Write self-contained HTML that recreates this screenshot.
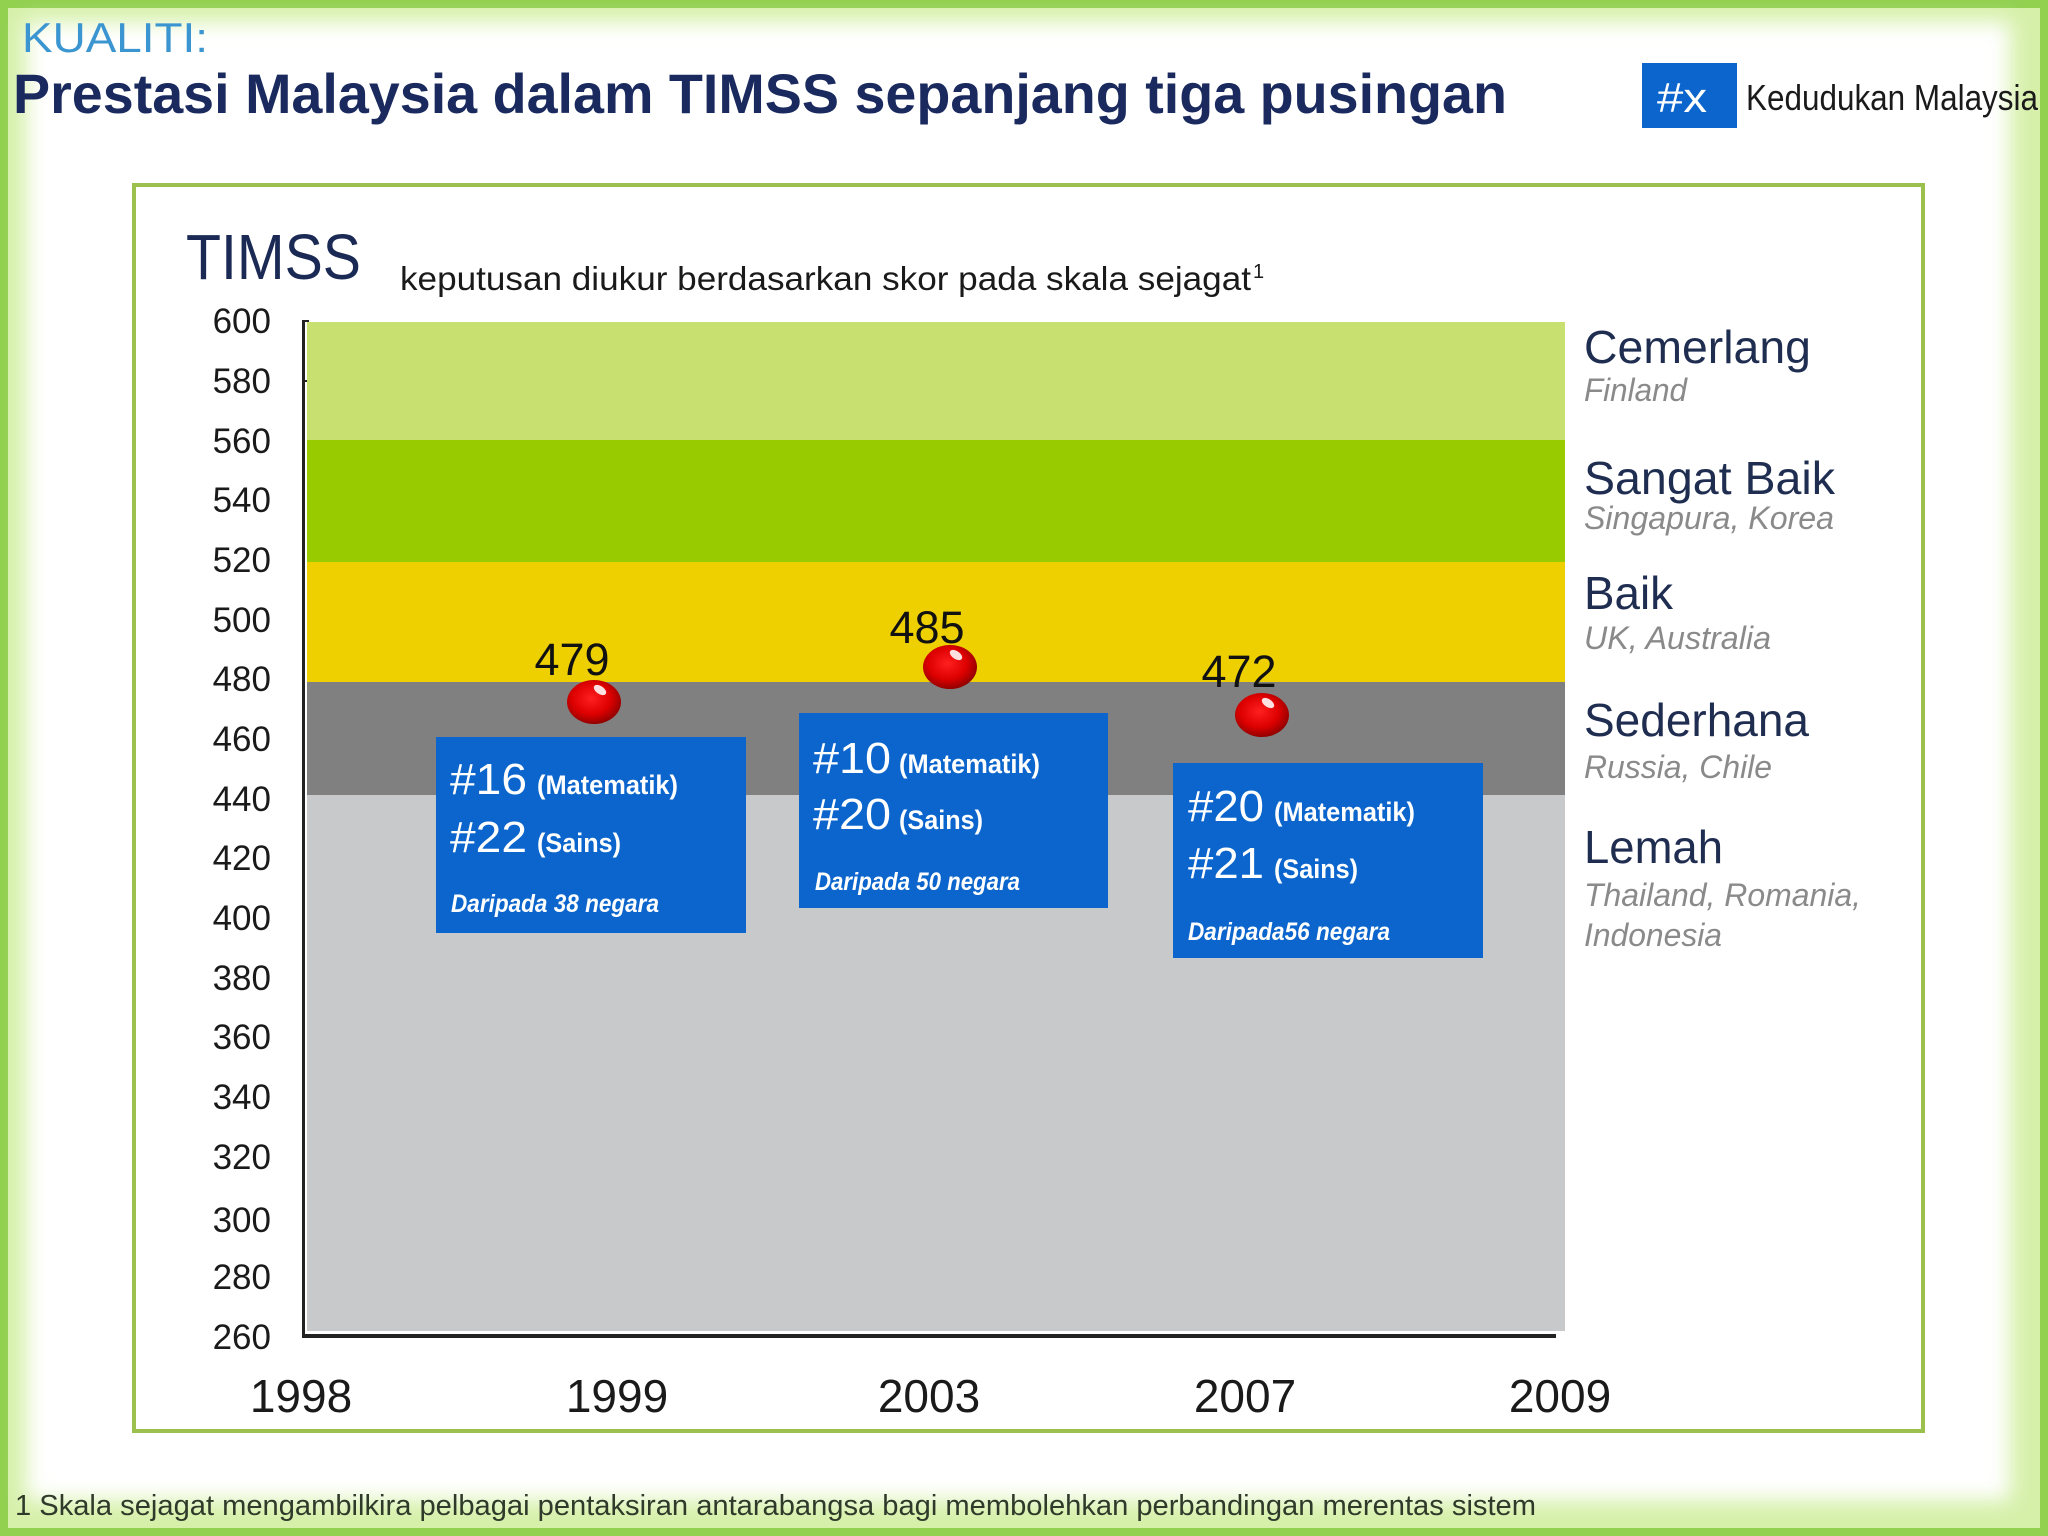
<!DOCTYPE html>
<html><head><meta charset="utf-8"><style>
html,body{margin:0;padding:0;background:#92d050;}
svg{display:block;}
text{font-family:"Liberation Sans",Arial,sans-serif;}
</style></head><body>
<svg width="2048" height="1536" viewBox="0 0 2048 1536" xmlns="http://www.w3.org/2000/svg">
<defs>
<filter id="blur" filterUnits="userSpaceOnUse" x="0" y="0" width="2048" height="1536"><feGaussianBlur stdDeviation="10"/></filter>
<radialGradient id="ball" cx="0.45" cy="0.42" r="0.6">
<stop offset="0" stop-color="#ff2020"/><stop offset="0.6" stop-color="#dd0000"/><stop offset="1" stop-color="#8c0000"/>
</radialGradient>
</defs>
<!-- outer frame -->
<rect x="0" y="0" width="2048" height="1536" fill="#92d050"/>
<rect x="8" y="8" width="2032" height="1520" fill="#d6f0aa"/>
<rect x="26" y="22" width="1984" height="1478" fill="#ffffff" filter="url(#blur)"/>

<!-- header -->
<text x="22" y="52" font-size="42" fill="#3b95d0" textLength="186" lengthAdjust="spacingAndGlyphs">KUALITI:</text>
<text x="13" y="113" font-size="56" font-weight="bold" fill="#1a2a5e" textLength="1494" lengthAdjust="spacingAndGlyphs">Prestasi Malaysia dalam TIMSS sepanjang tiga pusingan</text>
<rect x="1642" y="63" width="95" height="65" fill="#0b65cc"/>
<text x="1657" y="112" font-size="42" fill="#ffffff" textLength="50" lengthAdjust="spacingAndGlyphs">#x</text>
<text x="1746" y="110" font-size="36" fill="#1a1a1a" textLength="292" lengthAdjust="spacingAndGlyphs">Kedudukan Malaysia</text>
<rect x="2040" y="0" width="8" height="1536" fill="#92d050"/>

<!-- panel -->
<rect x="134" y="185" width="1789" height="1246" fill="#ffffff" stroke="#9cc04e" stroke-width="4"/>
<text x="186" y="279" font-size="64" fill="#1b2a55" textLength="175" lengthAdjust="spacingAndGlyphs">TIMSS</text>
<text x="400" y="290" font-size="33" fill="#1a1a1a" textLength="851" lengthAdjust="spacingAndGlyphs">keputusan diukur berdasarkan skor pada skala sejagat</text>
<text x="1253" y="278" font-size="20" fill="#1a1a1a">1</text>

<!-- bands -->
<rect x="307" y="322" width="1258" height="118" fill="#c8e070"/>
<rect x="307" y="440" width="1258" height="122" fill="#99cc00"/>
<rect x="307" y="562" width="1258" height="120" fill="#eed000"/>
<rect x="307" y="682" width="1258" height="113" fill="#808080"/>
<rect x="307" y="795" width="1258" height="536" fill="#c8c9cb"/>

<!-- axes -->
<line x1="303.5" y1="320" x2="303.5" y2="1338" stroke="#222" stroke-width="3"/>
<line x1="302" y1="1336" x2="1556" y2="1336" stroke="#222" stroke-width="4"/>
<line x1="303" y1="321" x2="309" y2="321" stroke="#222" stroke-width="2"/>
<line x1="303" y1="381" x2="307" y2="381" stroke="#222" stroke-width="2"/>

<!-- y labels -->
<g font-size="35" fill="#1a1a1a" text-anchor="end">
<text x="271" y="333">600</text>
<text x="271" y="393">580</text>
<text x="271" y="453">560</text>
<text x="271" y="512">540</text>
<text x="271" y="572">520</text>
<text x="271" y="632">500</text>
<text x="271" y="691">480</text>
<text x="271" y="751">460</text>
<text x="271" y="811">440</text>
<text x="271" y="870">420</text>
<text x="271" y="930">400</text>
<text x="271" y="990">380</text>
<text x="271" y="1049">360</text>
<text x="271" y="1109">340</text>
<text x="271" y="1169">320</text>
<text x="271" y="1232">300</text>
<text x="271" y="1289">280</text>
<text x="271" y="1349">260</text>
</g>

<!-- x labels -->
<g font-size="46" fill="#1a1a1a" text-anchor="middle">
<text x="301" y="1412">1998</text>
<text x="617" y="1412">1999</text>
<text x="929" y="1412">2003</text>
<text x="1245" y="1412">2007</text>
<text x="1560" y="1412">2009</text>
</g>

<!-- right category labels -->
<g font-size="46" fill="#1f2d50">
<text x="1584" y="363" textLength="227" lengthAdjust="spacingAndGlyphs">Cemerlang</text>
<text x="1584" y="494" textLength="251" lengthAdjust="spacingAndGlyphs">Sangat Baik</text>
<text x="1584" y="609" textLength="89" lengthAdjust="spacingAndGlyphs">Baik</text>
<text x="1584" y="736" textLength="225" lengthAdjust="spacingAndGlyphs">Sederhana</text>
<text x="1584" y="863" textLength="139" lengthAdjust="spacingAndGlyphs">Lemah</text>
</g>
<g font-size="32" fill="#8a8a8a" font-style="italic">
<text x="1584" y="401" textLength="103" lengthAdjust="spacingAndGlyphs">Finland</text>
<text x="1584" y="529" textLength="250" lengthAdjust="spacingAndGlyphs">Singapura, Korea</text>
<text x="1584" y="649" textLength="187" lengthAdjust="spacingAndGlyphs">UK, Australia</text>
<text x="1584" y="778" textLength="188" lengthAdjust="spacingAndGlyphs">Russia, Chile</text>
<text x="1584" y="906" textLength="277" lengthAdjust="spacingAndGlyphs">Thailand, Romania,</text>
<text x="1584" y="946" textLength="138" lengthAdjust="spacingAndGlyphs">Indonesia</text>
</g>

<!-- data labels -->
<g font-size="45" fill="#111" text-anchor="middle">
<text x="572" y="675">479</text>
<text x="927" y="643">485</text>
<text x="1239" y="687">472</text>
</g>

<!-- spheres -->
<g>
<ellipse cx="594" cy="702" rx="27" ry="22" fill="url(#ball)"/>
<ellipse cx="600" cy="690" rx="7" ry="4" fill="#ffe0e0" transform="rotate(35 600 690)"/>
<ellipse cx="950" cy="667" rx="27" ry="22" fill="url(#ball)"/>
<ellipse cx="956" cy="655" rx="7" ry="4" fill="#ffe0e0" transform="rotate(35 956 655)"/>
<ellipse cx="1262" cy="715" rx="27" ry="22" fill="url(#ball)"/>
<ellipse cx="1268" cy="703" rx="7" ry="4" fill="#ffe0e0" transform="rotate(35 1268 703)"/>
</g>

<!-- rank boxes -->
<rect x="436" y="737" width="310" height="196" fill="#0b65cc"/>
<rect x="799" y="713" width="309" height="195" fill="#0b65cc"/>
<rect x="1173" y="763" width="310" height="195" fill="#0b65cc"/>
<g fill="#ffffff">
<g font-size="44">
<text x="450" y="794" textLength="77" lengthAdjust="spacingAndGlyphs">#16</text>
<text x="450" y="852" textLength="77" lengthAdjust="spacingAndGlyphs">#22</text>
<text x="813" y="773" textLength="78" lengthAdjust="spacingAndGlyphs">#10</text>
<text x="813" y="829" textLength="78" lengthAdjust="spacingAndGlyphs">#20</text>
<text x="1188" y="821" textLength="76" lengthAdjust="spacingAndGlyphs">#20</text>
<text x="1188" y="878" textLength="76" lengthAdjust="spacingAndGlyphs">#21</text>
</g>
<g font-size="27" font-weight="bold">
<text x="537" y="794" textLength="141" lengthAdjust="spacingAndGlyphs">(Matematik)</text>
<text x="537" y="852" textLength="84" lengthAdjust="spacingAndGlyphs">(Sains)</text>
<text x="899" y="773" textLength="141" lengthAdjust="spacingAndGlyphs">(Matematik)</text>
<text x="899" y="829" textLength="84" lengthAdjust="spacingAndGlyphs">(Sains)</text>
<text x="1274" y="821" textLength="141" lengthAdjust="spacingAndGlyphs">(Matematik)</text>
<text x="1274" y="878" textLength="84" lengthAdjust="spacingAndGlyphs">(Sains)</text>
</g>
<g font-size="25" font-weight="bold" font-style="italic">
<text x="451" y="912" textLength="208" lengthAdjust="spacingAndGlyphs">Daripada 38 negara</text>
<text x="815" y="890" textLength="205" lengthAdjust="spacingAndGlyphs">Daripada 50 negara</text>
<text x="1188" y="940" textLength="202" lengthAdjust="spacingAndGlyphs">Daripada56 negara</text>
</g>
</g>

<!-- footnote -->
<text x="15" y="1515" font-size="29" fill="#2f3a2a" textLength="1521" lengthAdjust="spacingAndGlyphs">1 Skala sejagat mengambilkira pelbagai pentaksiran antarabangsa bagi membolehkan perbandingan merentas sistem</text>
<rect x="0" y="1528" width="2048" height="8" fill="#92d050"/>
</svg>
</body></html>
